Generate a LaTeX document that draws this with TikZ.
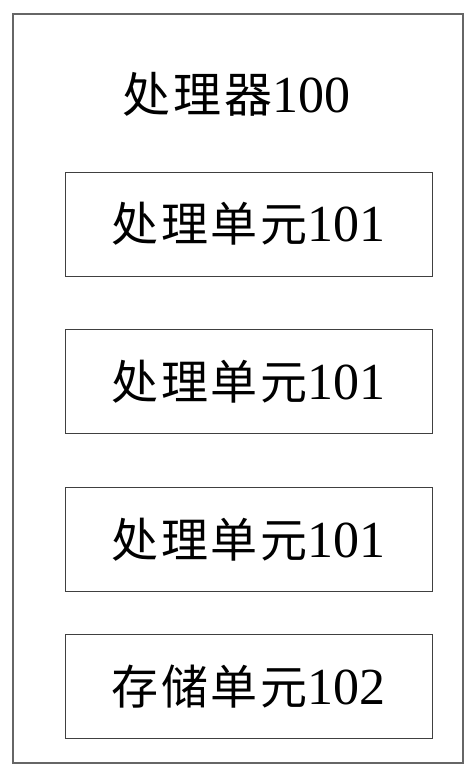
\documentclass[tikz,border=0pt]{standalone}
\usepackage{fontspec}
\setmainfont{Liberation Serif}
\newfontfamily\cjk[LetterSpace=6]{Noto Sans CJK SC}
\newcommand\digitsize{\fontsize{52}{52}\selectfont}
\usetikzlibrary{positioning}
\begin{document}
\begin{tikzpicture}[
            x=1pt, y=-1pt,
            outerbox/.style={draw=black!60, line width=1.3pt, minimum width=450pt, minimum height=749pt, inner sep=0pt},
            unitbox/.style={draw=black!75, line width=0.9pt, minimum width=367pt, minimum height=104pt, inner sep=0pt, font=\fontsize{47}{47}\selectfont},
            titletext/.style={inner sep=0pt, font=\fontsize{48}{48}\selectfont}
        ]
            \useasboundingbox (0,0) rectangle (474,776);
            % 外框：处理器
            \node[outerbox] (processor) at (238,388.5) {};
            \node[titletext] (name) at (236.5,94) {{\cjk 处理器}{\digitsize 100}};

            % 三个处理单元
            \node[unitbox] (unit1) at (248.5,224) {{\cjk 处理单元}{\digitsize 101}};
            \node[unitbox, below=53pt of unit1] (unit2) {{\cjk 处理单元}{\digitsize 101}};
            \node[unitbox, below=53pt of unit2] (unit3) {{\cjk 处理单元}{\digitsize 101}};

            % 存储单元
            \node[unitbox, below=42pt of unit3] (storage) {{\cjk 存储单元}{\digitsize 102}};
        \end{tikzpicture}
\end{document}
